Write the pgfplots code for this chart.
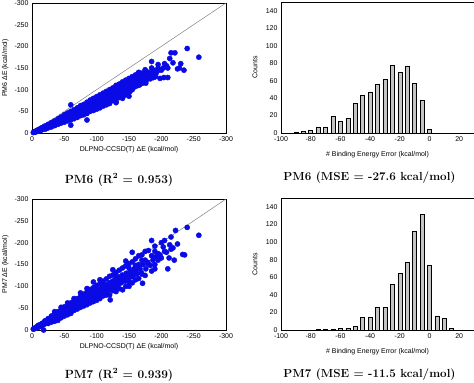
\documentclass[border=0pt]{standalone}
\usepackage{fontspec}
\setsansfont{Liberation Sans}
\usepackage{pgfplots}
\pgfplotsset{compat=1.18}
\definecolor{barfill}{RGB}{196,196,196}
\definecolor{dotblue}{RGB}{10,10,230}
\pgfplotstableread{
x y
-2 -1
-3 -2
-4 -2
-5 -4
-6 -3
-7 -5
-8 -4
-9 -6
-10 -6
-11 -8
-12 -7
-13 -9
-14 -8
-15 -11
-16 -9
-17 -12
-18 -10
-19 -13
-20 -12
-21 -15
-22 -13
-23 -16
-24 -14
-25 -18
-26 -15
-27 -19
-28 -17
-29 -20
-30 -18
-31 -22
-32 -19
-33 -23
-34 -20
-35 -25
-36 -22
-37 -26
-38 -23
-39 -28
-40 -25
-41 -29
-42 -26
-43 -30
-44 -27
-45 -32
-46 -28
-47 -33
-48 -29
-49 -35
-50 -31
-51 -36
-52 -32
-53 -37
-54 -33
-55 -39
-56 -35
-57 -40
-58 -36
-59 -42
-60 -37
-61 -43
-62 -39
-63 -44
-64 -40
-65 -46
-66 -42
-67 -47
-68 -43
-69 -49
-70 -45
-71 -50
-72 -46
-73 -51
-74 -47
-75 -53
-76 -49
-77 -54
-78 -50
-79 -56
-80 -52
-82 -57
-84 -54
-86 -60
-88 -56
-90 -62
-92 -58
-94 -65
-96 -61
-98 -68
-100 -64
-102 -70
-104 -66
-106 -73
-108 -69
-110 -76
-112 -71
-114 -78
-116 -74
-118 -81
-120 -76
-122 -84
-124 -79
-126 -87
-128 -82
-130 -90
-132 -85
-134 -93
-136 -88
-138 -96
-140 -91
-10 -4
-20 -9
-25 -12
-30 -14
-35 -17
-40 -20
-45 -23
-50 -25
-55 -28
-60 -30
-65 -33
-70 -36
-75 -40
-80 -42
-85 -45
-90 -50
-95 -52
-100 -55
-110 -62
-115 -65
-120 -68
-130 -72
-140 -80
-150 -85
-10 -8
-15 -12
-20 -16
-25 -20
-30 -24
-35 -28
-40 -32
-45 -35
-50 -40
-55 -44
-60 -47
-65 -51
-70 -55
-75 -58
-80 -62
-85 -66
-90 -70
-95 -74
-100 -78
-105 -82
-110 -86
-115 -90
-120 -95
-125 -98
-130 -104
-135 -108
-140 -112
-145 -115
-150 -120
-155 -125
-160 -128
-165 -135
-170 -138
-240 -195
-258 -175
-215 -185
-221 -185
-235 -145
-230 -160
-213 -172
-205 -160
-185 -165
-195 -150
-200 -145
-210 -150
-210 -128
-204 -128
-225 -148
-180 -140
-175 -143
-170 -130
-165 -140
-160 -125
-150 -110
-155 -110
-140 -110
-145 -95
-130 -100
-125 -90
-120 -85
-60 -65
-60 -18
-85 -30
-130 -70
-120 -72
-142 -100
-148 -104
-152 -98
-158 -115
-162 -118
-168 -122
-172 -118
-178 -128
-182 -132
-188 -128
-192 -138
-198 -126
-176 -115
-165 -110
-155 -100
-145 -88
-135 -82
-125 -75
-105 -58
-95 -58
-85 -50
-75 -46
-115 -84
-105 -76
-100 -72
-95 -66
-88 -62
-82 -58
-76 -52
-70 -48
-64 -44
-33 -18
-38 -27
-42 -22
-47 -30
-52 -38
-57 -34
-61 -36
-63 -47
-67 -39
-72 -52
-74 -43
-78 -57
-81 -48
-83 -60
-87 -53
-89 -65
-91 -55
-93 -68
-97 -57
-99 -73
-101 -61
-103 -76
-107 -63
-109 -80
-111 -68
-113 -83
-117 -70
-119 -88
-121 -74
-123 -92
-127 -78
-129 -95
-131 -80
-133 -99
-137 -84
-139 -102
-141 -86
-143 -106
-147 -92
-149 -110
-151 -95
-153 -114
-157 -105
-159 -118
-161 -108
-163 -122
-167 -112
-169 -126
-171 -115
-173 -130
-177 -122
-179 -134
-183 -125
-187 -140
-191 -130
-196 -145
-203 -150
-208 -155
-218 -162
-228 -150
-5 -2
-8 -6
-12 -9
-14 -6
-17 -10
-19 -15
-22 -10
-24 -17
-27 -14
-29 -22
-31 -17
-34 -26
-36 -19
-39 -24
-41 -33
-44 -24
-46 -35
-48 -27
-51 -41
-53 -30
-56 -43
-58 -33
-59 -46
-62 -35
-64 -49
-66 -38
-68 -52
-71 -41
-73 -56
-76 -45
-79 -59
-82 -50
-84 -63
-86 -52
-88 -68
-91 -60
-94 -72
-96 -63
-98 -62
-102 -75
-104 -60
-106 -79
-108 -73
-112 -80
-114 -72
-116 -85
-118 -78
-122 -78
-124 -88
-126 -83
-128 -92
-132 -94
-134 -86
-136 -98
-138 -90
-142 -95
-144 -105
-146 -98
-148 -115
-152 -108
-154 -118
-156 -112
-158 -108
-162 -128
-164 -115
-166 -125
-168 -132
-172 -125
-174 -136
-176 -130
-178 -140
-182 -138
-186 -132
-188 -145
-190 -140
-45 -37
-55 -46
-65 -54
-75 -63
-85 -71
-95 -80
-105 -88
-115 -96
-125 -104
-135 -113
-145 -122
-155 -130
-165 -138
-175 -146
-185 -150
-195 -158
-50 -42
-70 -58
-90 -76
-110 -92
-130 -110
-150 -126
-60 -50
-80 -66
-100 -84
-120 -100
-140 -118
-160 -134
}\pmsix
\pgfplotstableread{
x y
-2 -2
-3 -3
-4 -3
-5 -5
-6 -4
-7 -7
-8 -6
-9 -9
-10 -8
-11 -10
-12 -9
-13 -12
-14 -11
-15 -14
-16 -12
-17 -16
-18 -14
-19 -18
-20 -16
-21 -20
-22 -17
-23 -22
-24 -19
-25 -24
-26 -20
-27 -25
-28 -22
-29 -27
-30 -24
-31 -29
-32 -25
-33 -31
-34 -27
-35 -33
-36 -29
-37 -35
-38 -30
-39 -37
-40 -32
-41 -38
-42 -34
-43 -40
-44 -36
-45 -42
-46 -37
-47 -44
-48 -39
-49 -46
-50 -40
-52 -48
-54 -44
-56 -52
-58 -47
-60 -55
-62 -50
-64 -58
-66 -54
-68 -62
-70 -57
-72 -66
-74 -60
-76 -69
-78 -64
-80 -73
-82 -67
-84 -76
-86 -71
-88 -80
-90 -74
-92 -83
-94 -78
-96 -86
-98 -81
-100 -90
-102 -84
-104 -93
-106 -88
-108 -97
-110 -92
-112 -100
-114 -95
-116 -104
-118 -98
-120 -108
-122 -102
-124 -111
-126 -105
-128 -115
-130 -109
-132 -118
-134 -112
-136 -122
-138 -116
-140 -126
-143 -120
-146 -130
-149 -125
-152 -135
-155 -130
-158 -140
-161 -136
-164 -145
-167 -140
-10 -11
-20 -21
-30 -32
-40 -42
-50 -53
-60 -62
-70 -72
-80 -82
-90 -93
-100 -102
-110 -112
-120 -123
-130 -132
-140 -142
-150 -152
-160 -163
-170 -172
-180 -182
-190 -192
-185 -205
-200 -200
-205 -205
-215 -213
-222 -228
-240 -235
-45 -52
-65 -72
-85 -95
-105 -115
-125 -138
-145 -158
-155 -178
-165 -170
-175 -180
-95 -110
-75 -85
-55 -62
-35 -42
-15 -8
-18 0
-25 -15
-35 -20
-45 -28
-55 -35
-65 -45
-75 -52
-85 -58
-95 -65
-105 -72
-115 -80
-121 -69
-125 -90
-135 -95
-145 -100
-155 -108
-165 -118
-171 -107
-175 -125
-185 -135
-190 -150
-195 -160
-200 -165
-210 -140
-212 -165
-220 -160
-225 -197
-233 -173
-236 -172
-258 -217
-40 -22
-60 -38
-80 -55
-100 -68
-130 -95
-150 -110
-180 -150
-185 -170
-195 -175
-205 -180
-215 -185
-175 -160
-165 -150
-160 -148
-5 -4
-8 -7
-11 -7
-13 -10
-16 -15
-19 -13
-22 -20
-24 -16
-27 -23
-29 -20
-32 -29
-34 -23
-37 -31
-39 -28
-42 -38
-44 -31
-47 -40
-49 -35
-51 -45
-53 -38
-56 -48
-58 -42
-61 -53
-63 -45
-66 -58
-68 -50
-71 -62
-73 -53
-76 -66
-78 -58
-81 -70
-83 -62
-86 -75
-88 -66
-91 -80
-93 -70
-96 -84
-98 -74
-101 -88
-103 -78
-106 -93
-108 -83
-111 -97
-113 -86
-116 -100
-118 -90
-121 -106
-123 -94
-126 -110
-128 -98
-131 -115
-133 -103
-136 -118
-138 -108
-141 -122
-144 -112
-147 -128
-150 -118
-153 -132
-156 -122
-159 -138
-162 -128
-166 -144
-169 -132
-172 -150
-176 -140
-179 -155
-183 -148
-187 -160
-192 -168
-198 -172
-203 -190
-208 -178
-213 -195
-218 -188
-25 -26
-35 -37
-45 -47
-55 -57
-65 -67
-75 -77
-85 -87
-95 -97
-105 -106
-115 -117
-125 -126
-135 -137
-145 -147
-155 -156
-50 -50
-70 -66
-90 -86
-110 -104
-130 -124
-150 -142
-170 -160
-190 -180
-30 -18
-50 -32
-70 -48
-90 -62
-110 -78
-130 -88
-150 -100
-170 -128
-190 -140
-120 -80
-140 -92
-160 -115
}\pmseven
\pgfplotstableread{
x c
-90 1
-85 2
-80 3
-75 7
-70 7
-65 19
-60 14
-55 17
-50 34
-45 43
-40 47
-35 56
-30 61
-25 78
-20 69
-15 77
-10 57
-5 37
0 4
}\histsix
\pgfplotstableread{
x c
-75 1
-70 1
-65 1
-60 2
-55 2
-50 4
-45 14
-40 15
-35 26
-30 26
-25 52
-20 64
-15 77
-10 112
-5 131
0 74
5 16
10 13
15 2
}\histseven
\begin{document}
\begin{tikzpicture}
\path[use as bounding box] (0,0) rectangle (474bp,-383bp);
\pgfplotsset{
  every axis/.append style={
    scale only axis,
    tick label style={font=\sffamily\fontsize{7}{8}\selectfont},
    label style={font=\sffamily\fontsize{7}{8}\selectfont},
    major tick length=0pt,
    axis line style={line width=0.6pt},
  },
  scat/.style={
    width=194bp,
    x dir=reverse, y dir=reverse,
    xmin=-300, xmax=0, ymin=-300, ymax=0,
    xtick={0,-50,-100,-150,-200,-250,-300},
    xticklabels={0,-50,-100,-150,-200,-250,-300},
    ytick={0,-50,-100,-150,-200,-250,-300},
    yticklabels={0,-50,-100,-150,-200,-250,-300},
    xlabel={DLPNO-CCSD(T) ΔE (kcal/mol)},
    xlabel style={at={(axis description cs:0.5,-0.13)}, anchor=center},
    ylabel style={at={(axis description cs:-0.138,0.5)}, anchor=center},
  },
  hist/.style={
    width=193bp,
    xmin=-100, xmax=30, ymin=0, ymax=150,
    xtick={-100,-80,-60,-40,-20,0,20},
    xticklabels={-100,-80,-60,-40,-20,0,20},
    ytick={0,20,40,60,80,100,120,140},
    yticklabels={0,20,40,60,80,100,120,140},
    xlabel={\# Binding Energy Error (kcal/mol)},
    ylabel={Counts},
    xlabel style={at={(axis description cs:0.5,-0.168)}, anchor=center},
    ylabel style={at={(axis description cs:-0.135,0.5)}, anchor=center},
  },
}
% top-left scatter
\begin{axis}[scat, height=130bp, at={(32bp,-133bp)}, anchor=south west,
  ylabel={PM6 ΔE (kcal/mol)}]
  \addplot[gray, line width=0.5pt] coordinates {(0,0) (-300,-300)};
  \addplot[only marks, mark=*, mark size=2.6bp, dotblue, mark options={draw=dotblue, fill=dotblue}] table[x=x,y=y] {\pmsix};
\end{axis}
% top-right histogram
\begin{axis}[hist, height=131bp, at={(281bp,-133bp)}, anchor=south west]
  \addplot[ybar, bar width=4bp, fill=barfill, draw=black, line width=0.5pt] table[x=x,y=c] {\histsix};
\end{axis}
% bottom-left scatter
\begin{axis}[scat, height=131bp, at={(32bp,-330bp)}, anchor=south west,
  ylabel={PM7 ΔE (kcal/mol)}]
  \addplot[gray, line width=0.5pt] coordinates {(0,0) (-300,-300)};
  \addplot[only marks, mark=*, mark size=2.6bp, dotblue, mark options={draw=dotblue, fill=dotblue}] table[x=x,y=y] {\pmseven};
\end{axis}
% bottom-right histogram
\begin{axis}[hist, height=132bp, at={(281bp,-330bp)}, anchor=south west]
  \addplot[ybar, bar width=4bp, fill=barfill, draw=black, line width=0.5pt] table[x=x,y=c] {\histseven};
\end{axis}
% captions
\node[font=\bfseries\boldmath\fontsize{11.9}{14}\selectfont] at (119bp,-180bp) {PM6 (R$^2$ = 0.953)};
\node[font=\bfseries\boldmath\fontsize{11.7}{14}\selectfont] at (369.5bp,-178bp) {PM6 (MSE = -27.6 kcal/mol)};
\node[font=\bfseries\boldmath\fontsize{11.9}{14}\selectfont] at (119bp,-375bp) {PM7 (R$^2$ = 0.939)};
\node[font=\bfseries\boldmath\fontsize{11.7}{14}\selectfont] at (369.5bp,-375bp) {PM7 (MSE = -11.5 kcal/mol)};
\end{tikzpicture}
\end{document}
